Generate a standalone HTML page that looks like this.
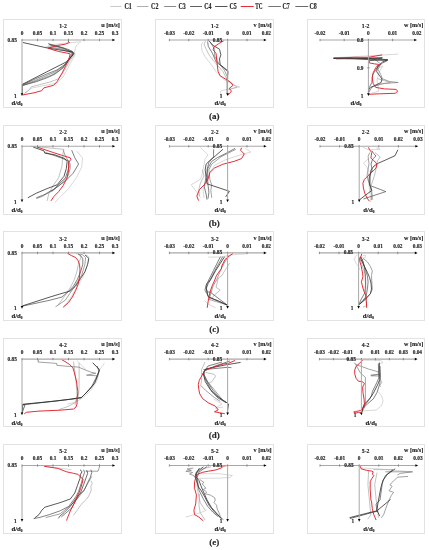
<!DOCTYPE html><html><head><meta charset="utf-8"><title>Velocity profiles</title><style>
html,body{margin:0;padding:0;background:#fff;}body{width:429px;height:550px;overflow:hidden;}
svg{display:block;}text{font-family:"Liberation Serif",serif;font-weight:bold;fill:#262626;stroke:#262626;stroke-width:0.15px;}
.t{font-size:5.3px;}.h{font-size:6.3px;}.s{font-size:9px;}.dd{font-size:6.8px;}.u{font-size:5.8px;}.lg{font-size:7.4px;}
</style></head><body>
<svg width="429" height="550" viewBox="0 0 429 550">
<line x1="110.3" y1="6.5" x2="121.5" y2="6.5" stroke="#c4c4c4" stroke-width="0.9"/>
<text class="lg" x="124.5" y="8.5" textLength="7.3" lengthAdjust="spacingAndGlyphs">C1</text>
<line x1="136.9" y1="6.5" x2="148.4" y2="6.5" stroke="#a6a6a6" stroke-width="0.9"/>
<text class="lg" x="151.1" y="8.5" textLength="7.3" lengthAdjust="spacingAndGlyphs">C2</text>
<line x1="164.2" y1="6.5" x2="176.1" y2="6.5" stroke="#7f7f7f" stroke-width="0.9"/>
<text class="lg" x="178.5" y="8.5" textLength="7.3" lengthAdjust="spacingAndGlyphs">C3</text>
<line x1="190.1" y1="6.5" x2="202.0" y2="6.5" stroke="#4f4f4f" stroke-width="0.9"/>
<text class="lg" x="204.2" y="8.5" textLength="7.3" lengthAdjust="spacingAndGlyphs">C4</text>
<line x1="215.1" y1="6.5" x2="227.4" y2="6.5" stroke="#3f3f3f" stroke-width="0.9"/>
<text class="lg" x="229.4" y="8.5" textLength="7.3" lengthAdjust="spacingAndGlyphs">C5</text>
<line x1="240.7" y1="6.5" x2="253.7" y2="6.5" stroke="#e3161e" stroke-width="0.9"/>
<text class="lg" x="255.3" y="8.5" textLength="7.3" lengthAdjust="spacingAndGlyphs">TC</text>
<line x1="268.3" y1="6.5" x2="280.9" y2="6.5" stroke="#666666" stroke-width="0.9"/>
<text class="lg" x="282.5" y="8.5" textLength="7.3" lengthAdjust="spacingAndGlyphs">C7</text>
<line x1="295.3" y1="6.5" x2="308.2" y2="6.5" stroke="#595959" stroke-width="0.9"/>
<text class="lg" x="309.5" y="8.5" textLength="7.3" lengthAdjust="spacingAndGlyphs">C8</text>
<rect x="3.5" y="19.5" width="118.0" height="88.0" fill="none" stroke="#e2e2e2" stroke-width="1"/>
<polyline points="50.0,45.0 62.0,43.5 80.8,41.7 76.0,46.0 74.5,52.0 75.0,55.0 71.0,62.0 68.0,68.0 63.0,77.0 57.0,83.0 32.0,88.0 25.0,93.0" fill="none" stroke="#c8c8c8" stroke-width="0.7" stroke-linejoin="round"/>
<polyline points="48.0,46.0 62.0,49.0 73.0,52.5 74.0,55.0 69.0,62.0 66.2,67.6 62.0,74.0 58.0,79.0 50.0,82.0 31.2,86.8 29.1,90.0 24.2,93.5" fill="none" stroke="#a8a8a8" stroke-width="0.7" stroke-linejoin="round"/>
<polyline points="50.0,45.0 60.0,47.5 72.0,52.0 72.5,54.0 68.0,60.0 64.0,66.0 55.0,72.0 48.0,75.0 35.0,80.5 22.5,85.2" fill="none" stroke="#7a7a7a" stroke-width="0.7" stroke-linejoin="round"/>
<polyline points="46.0,47.0 60.0,49.0 72.0,53.0 70.0,58.0 65.0,65.0 60.0,70.0 52.0,75.0 48.0,76.5 36.0,81.0 22.5,85.5" fill="none" stroke="#7a7a7a" stroke-width="0.7" stroke-linejoin="round"/>
<polyline points="49.0,44.5 62.0,47.5 73.0,52.5 72.5,55.0 70.0,58.0 63.0,68.0 55.0,74.0 48.0,77.4 36.0,81.8 22.5,85.5" fill="none" stroke="#4a4a4a" stroke-width="0.7" stroke-linejoin="round"/>
<polyline points="48.0,43.6 57.8,46.4 67.6,49.2 72.4,51.3 73.8,53.4 71.7,56.2 66.9,63.0 57.0,70.0 48.0,73.5 35.0,79.0 22.5,84.8" fill="none" stroke="#4a4a4a" stroke-width="0.7" stroke-linejoin="round"/>
<polyline points="22.9,42.5 48.2,48.2 60.0,50.0 72.5,52.0 73.8,53.5 71.7,56.5 66.2,62.0 48.0,71.2 22.3,84.4 22.3,94.0" fill="none" stroke="#2f2f2f" stroke-width="0.8" stroke-linejoin="round"/>
<polyline points="67.8,40.9 69.4,42.5 65.3,44.2 57.2,45.5 48.2,48.2 53.1,49.9 58.8,51.5 66.9,53.1 70.2,53.9 69.4,57.2 67.6,62.0 62.0,73.2 57.1,81.6 53.6,85.3 43.8,87.9 41.7,90.7 34.0,92.8 22.8,94.9" fill="none" stroke="#e3161e" stroke-width="0.9" stroke-linejoin="round"/>
<line x1="22.0" y1="40.0" x2="113.5" y2="40.0" stroke="#a8a8a8" stroke-width="1.1"/>
<path d="M115.2,40.0 l-2.8,-1.3 v2.6 z" fill="#000"/>
<line x1="22.0" y1="38.8" x2="22.0" y2="41.2" stroke="#7a7a7a" stroke-width="0.8"/>
<line x1="37.5" y1="38.8" x2="37.5" y2="41.2" stroke="#7a7a7a" stroke-width="0.8"/>
<line x1="53.0" y1="38.8" x2="53.0" y2="41.2" stroke="#7a7a7a" stroke-width="0.8"/>
<line x1="68.5" y1="38.8" x2="68.5" y2="41.2" stroke="#7a7a7a" stroke-width="0.8"/>
<line x1="84.0" y1="38.8" x2="84.0" y2="41.2" stroke="#7a7a7a" stroke-width="0.8"/>
<line x1="99.5" y1="38.8" x2="99.5" y2="41.2" stroke="#7a7a7a" stroke-width="0.8"/>
<line x1="22.0" y1="40.0" x2="22.0" y2="93.7" stroke="#a8a8a8" stroke-width="1.0"/>
<path d="M22.0,96.0 l-1.3,-2.8 h2.6 z" fill="#000"/>
<text class="t" x="22.0" y="34.7" text-anchor="middle">0</text>
<text class="t" x="37.5" y="34.7" text-anchor="middle">0.05</text>
<text class="t" x="53.0" y="34.7" text-anchor="middle">0.1</text>
<text class="t" x="68.5" y="34.7" text-anchor="middle">0.15</text>
<text class="t" x="84.0" y="34.7" text-anchor="middle">0.2</text>
<text class="t" x="99.5" y="34.7" text-anchor="middle">0.25</text>
<text class="t" x="115.0" y="34.7" text-anchor="middle">0.3</text>
<text class="h" x="59.15" y="27.9" textLength="7.7" lengthAdjust="spacingAndGlyphs">1-2</text>
<text class="u" x="101.19999999999999" y="26.6" textLength="18.6" lengthAdjust="spacingAndGlyphs">u [m/s]</text>
<text class="t" x="16.9" y="41.7" text-anchor="end">0.85</text>
<text class="t" x="15.4" y="97.60000000000001" text-anchor="middle">1</text>
<text class="dd" x="11.4" y="105.4">d/d<tspan font-size="3.4" dy="0.9">0</tspan></text>
<rect x="155.5" y="19.5" width="118.0" height="88.0" fill="none" stroke="#e2e2e2" stroke-width="1"/>
<polyline points="202.7,42.2 201.3,45.0 202.0,50.6 204.8,56.2 209.0,61.8 213.2,67.4 216.0,71.6 220.2,75.8 224.4,80.0 235.6,85.6 239.8,87.0 230.0,89.0 222.0,90.5 220.2,91.8 221.0,94.0 220.9,97.5" fill="none" stroke="#c8c8c8" stroke-width="0.7" stroke-linejoin="round"/>
<polyline points="205.5,40.8 204.1,44.3 206.2,49.2 209.0,54.8 213.2,60.4 218.1,66.0 223.0,71.6 226.5,78.6 232.0,84.0 237.0,87.0 228.6,89.7" fill="none" stroke="#a8a8a8" stroke-width="0.7" stroke-linejoin="round"/>
<polyline points="210.4,42.2 214.6,49.2 214.6,56.2 218.8,63.2 224.4,70.2 227.0,76.0" fill="none" stroke="#7a7a7a" stroke-width="0.7" stroke-linejoin="round"/>
<polyline points="207.6,41.5 208.3,46.4 212.5,53.4 216.0,61.8 223.0,67.4 227.9,71.6 227.5,80.0" fill="none" stroke="#4a4a4a" stroke-width="0.7" stroke-linejoin="round"/>
<polyline points="209.0,40.8 212.5,45.0 219.5,49.2 220.9,54.8 219.5,59.0 220.2,64.6 227.9,70.9 227.2,78.0 227.2,94.0" fill="none" stroke="#2f2f2f" stroke-width="0.8" stroke-linejoin="round"/>
<polyline points="223.7,40.8 218.8,43.6 213.9,47.1 213.2,49.9 216.0,53.4 216.7,59.0 217.4,66.0 218.1,71.6 220.2,75.8 225.8,79.3 231.4,82.8 232.8,85.6 229.3,88.3 231.4,91.1 229.3,93.9 227.9,94.6" fill="none" stroke="#e3161e" stroke-width="0.9" stroke-linejoin="round"/>
<line x1="169.4" y1="40.0" x2="264.9" y2="40.0" stroke="#a8a8a8" stroke-width="1.1"/>
<path d="M266.6,40.0 l-2.8,-1.3 v2.6 z" fill="#000"/>
<line x1="169.4" y1="38.8" x2="169.4" y2="41.2" stroke="#7a7a7a" stroke-width="0.8"/>
<line x1="188.8" y1="38.8" x2="188.8" y2="41.2" stroke="#7a7a7a" stroke-width="0.8"/>
<line x1="208.2" y1="38.8" x2="208.2" y2="41.2" stroke="#7a7a7a" stroke-width="0.8"/>
<line x1="227.6" y1="38.8" x2="227.6" y2="41.2" stroke="#7a7a7a" stroke-width="0.8"/>
<line x1="247.0" y1="38.8" x2="247.0" y2="41.2" stroke="#7a7a7a" stroke-width="0.8"/>
<line x1="227.6" y1="40.0" x2="227.6" y2="93.7" stroke="#a8a8a8" stroke-width="1.0"/>
<path d="M227.6,96.0 l-1.3,-2.8 h2.6 z" fill="#000"/>
<text class="t" x="169.4" y="34.7" text-anchor="middle">-0.03</text>
<text class="t" x="188.8" y="34.7" text-anchor="middle">-0.02</text>
<text class="t" x="208.2" y="34.7" text-anchor="middle">-0.01</text>
<text class="t" x="227.6" y="34.7" text-anchor="middle">0</text>
<text class="t" x="247.0" y="34.7" text-anchor="middle">0.01</text>
<text class="t" x="266.4" y="34.7" text-anchor="middle">0.02</text>
<text class="h" x="210.95" y="27.9" textLength="7.7" lengthAdjust="spacingAndGlyphs">1-2</text>
<text class="u" x="253.60000000000002" y="26.6" textLength="18.0" lengthAdjust="spacingAndGlyphs">v [m/s]</text>
<text class="t" x="217.5" y="41.5" text-anchor="middle">0.85</text>
<text class="t" x="221.2" y="97.60000000000001" text-anchor="middle">1</text>
<text class="dd" x="214.6" y="105.4">d/d<tspan font-size="3.4" dy="0.9">0</tspan></text>
<rect x="307.5" y="19.5" width="117.0" height="88.0" fill="none" stroke="#e2e2e2" stroke-width="1"/>
<polyline points="333.3,57.8 398.5,54.1" fill="none" stroke="#c8c8c8" stroke-width="0.7" stroke-linejoin="round"/>
<polyline points="378.1,68.3 383.0,66.0 379.0,72.0 377.0,80.0 378.6,91.3 372.0,93.0" fill="none" stroke="#c8c8c8" stroke-width="0.7" stroke-linejoin="round"/>
<polyline points="377.6,78.6 390.4,82.5 384.5,83.5 375.0,86.0" fill="none" stroke="#a8a8a8" stroke-width="0.7" stroke-linejoin="round"/>
<polyline points="345.0,58.6 375.0,59.5 380.7,64.0 378.0,69.2 380.7,74.5 382.4,78.8 389.4,81.5 398.2,82.5 382.5,83.5 372.0,87.0 369.0,92.0" fill="none" stroke="#7a7a7a" stroke-width="0.7" stroke-linejoin="round"/>
<polyline points="340.0,58.4 382.4,57.9 370.0,60.5 387.7,60.5 382.4,63.1 377.2,67.5 372.8,74.5 372.0,79.7 371.8,82.5 369.0,88.0 368.5,94.0" fill="none" stroke="#4a4a4a" stroke-width="0.7" stroke-linejoin="round"/>
<polyline points="333.3,58.2 368.3,58.6 387.7,59.6 382.5,62.0 378.1,65.9 377.1,68.8 376.7,71.8 379.6,75.7 382.0,79.1 381.1,82.5 374.7,85.5 370.8,87.4 368.8,89.4 368.3,93.8" fill="none" stroke="#2f2f2f" stroke-width="0.8" stroke-linejoin="round"/>
<polyline points="382.2,54.9 368.3,57.3 354.5,57.3 334.1,58.2 354.0,58.6 369.3,59.5 369.3,62.9 374.7,63.9 378.6,64.4 375.7,67.8 373.2,72.7 372.2,77.6 373.2,83.5 375.7,87.4 384.5,88.9 396.2,89.4 397.7,91.3 395.3,93.3 379.6,93.8 368.8,94.3" fill="none" stroke="#e3161e" stroke-width="0.9" stroke-linejoin="round"/>
<polyline points="333.3,58.4 368.3,58.4 382.4,57.9" fill="none" stroke="#2f2f2f" stroke-width="0.8" stroke-linejoin="round"/>
<polyline points="336.0,58.9 360.0,58.6 387.7,59.8" fill="none" stroke="#4a4a4a" stroke-width="0.7" stroke-linejoin="round"/>
<line x1="320.0" y1="40.0" x2="415.3" y2="40.0" stroke="#a8a8a8" stroke-width="1.1"/>
<path d="M417.0,40.0 l-2.8,-1.3 v2.6 z" fill="#000"/>
<line x1="320.0" y1="38.8" x2="320.0" y2="41.2" stroke="#7a7a7a" stroke-width="0.8"/>
<line x1="344.2" y1="38.8" x2="344.2" y2="41.2" stroke="#7a7a7a" stroke-width="0.8"/>
<line x1="368.4" y1="38.8" x2="368.4" y2="41.2" stroke="#7a7a7a" stroke-width="0.8"/>
<line x1="392.6" y1="38.8" x2="392.6" y2="41.2" stroke="#7a7a7a" stroke-width="0.8"/>
<line x1="368.4" y1="40.0" x2="368.4" y2="93.7" stroke="#a8a8a8" stroke-width="1.0"/>
<path d="M368.4,96.0 l-1.3,-2.8 h2.6 z" fill="#000"/>
<text class="t" x="320.0" y="34.7" text-anchor="middle">-0.02</text>
<text class="t" x="344.2" y="34.7" text-anchor="middle">-0.01</text>
<text class="t" x="368.4" y="34.7" text-anchor="middle">0</text>
<text class="t" x="392.6" y="34.7" text-anchor="middle">0.01</text>
<text class="t" x="416.8" y="34.7" text-anchor="middle">0.02</text>
<text class="h" x="361.75" y="27.9" textLength="7.7" lengthAdjust="spacingAndGlyphs">1-2</text>
<text class="u" x="404.0" y="26.6" textLength="19.2" lengthAdjust="spacingAndGlyphs">w [m/s]</text>
<text class="t" x="360.2" y="41.7" text-anchor="middle">0.8</text>
<line x1="367.2" y1="67.8" x2="369.6" y2="67.8" stroke="#7a7a7a" stroke-width="0.8"/>
<text class="t" x="360.2" y="70.1" text-anchor="middle">0.9</text>
<text class="t" x="362.1" y="97.60000000000001" text-anchor="middle">1</text>
<text class="dd" x="350.4" y="105.4">d/d<tspan font-size="3.4" dy="0.9">0</tspan></text>
<text class="s" x="214.3" y="119.39999999999999" text-anchor="middle">(a)</text>
<rect x="3.5" y="125.5" width="118.0" height="89.0" fill="none" stroke="#e2e2e2" stroke-width="1"/>
<polyline points="76.3,150.9 82.5,157.8 81.7,167.1 76.3,177.8 68.6,188.6 60.9,196.3 54.8,202.5" fill="none" stroke="#c8c8c8" stroke-width="0.7" stroke-linejoin="round"/>
<polyline points="30.9,146.3 45.0,147.5 64.0,149.4 63.0,153.0 62.5,159.4 62.0,166.0 58.6,177.8 53.2,185.5 49.0,193.0 47.1,200.9" fill="none" stroke="#a8a8a8" stroke-width="0.7" stroke-linejoin="round"/>
<polyline points="63.2,150.2 65.5,156.3 70.2,164.0 70.2,168.6 67.8,176.3 60.9,184.0 53.2,190.2 42.5,196.3 36.3,198.6" fill="none" stroke="#7a7a7a" stroke-width="0.7" stroke-linejoin="round"/>
<polyline points="71.7,150.2 74.8,157.8 78.6,164.0 73.2,173.2 65.5,180.9 54.8,188.6 44.0,194.8 36.3,197.8" fill="none" stroke="#4a4a4a" stroke-width="0.7" stroke-linejoin="round"/>
<polyline points="45.5,152.5 60.9,157.8 68.6,160.9 69.0,167.0 65.5,177.8 59.0,184.0 51.7,191.7" fill="none" stroke="#4a4a4a" stroke-width="0.7" stroke-linejoin="round"/>
<polyline points="33.2,147.1 44.0,150.9 44.8,153.2 54.8,154.8 64.8,158.6 67.1,161.7 66.3,168.6 64.0,176.3 57.1,184.8 47.1,188.6 36.3,193.2 27.8,197.8" fill="none" stroke="#2f2f2f" stroke-width="0.8" stroke-linejoin="round"/>
<polyline points="37.1,147.1 44.0,149.4 53.2,152.5 62.5,155.5 70.2,157.8 70.9,159.4 68.6,162.5 68.6,170.2 67.1,177.8 63.2,185.5 58.6,191.7 54.0,196.3 50.9,200.9" fill="none" stroke="#e3161e" stroke-width="0.9" stroke-linejoin="round"/>
<line x1="22.0" y1="146.3" x2="113.5" y2="146.3" stroke="#a8a8a8" stroke-width="1.1"/>
<path d="M115.2,146.3 l-2.8,-1.3 v2.6 z" fill="#000"/>
<line x1="22.0" y1="145.10000000000002" x2="22.0" y2="147.5" stroke="#7a7a7a" stroke-width="0.8"/>
<line x1="37.5" y1="145.10000000000002" x2="37.5" y2="147.5" stroke="#7a7a7a" stroke-width="0.8"/>
<line x1="53.0" y1="145.10000000000002" x2="53.0" y2="147.5" stroke="#7a7a7a" stroke-width="0.8"/>
<line x1="68.5" y1="145.10000000000002" x2="68.5" y2="147.5" stroke="#7a7a7a" stroke-width="0.8"/>
<line x1="84.0" y1="145.10000000000002" x2="84.0" y2="147.5" stroke="#7a7a7a" stroke-width="0.8"/>
<line x1="99.5" y1="145.10000000000002" x2="99.5" y2="147.5" stroke="#7a7a7a" stroke-width="0.8"/>
<line x1="22.0" y1="146.3" x2="22.0" y2="199.9" stroke="#a8a8a8" stroke-width="1.0"/>
<path d="M22.0,202.20000000000002 l-1.3,-2.8 h2.6 z" fill="#000"/>
<text class="t" x="22.0" y="141.0" text-anchor="middle">0</text>
<text class="t" x="37.5" y="141.0" text-anchor="middle">0.05</text>
<text class="t" x="53.0" y="141.0" text-anchor="middle">0.1</text>
<text class="t" x="68.5" y="141.0" text-anchor="middle">0.15</text>
<text class="t" x="84.0" y="141.0" text-anchor="middle">0.2</text>
<text class="t" x="99.5" y="141.0" text-anchor="middle">0.25</text>
<text class="t" x="115.0" y="141.0" text-anchor="middle">0.3</text>
<text class="h" x="59.15" y="134.20000000000002" textLength="7.7" lengthAdjust="spacingAndGlyphs">2-2</text>
<text class="u" x="101.19999999999999" y="132.9" textLength="18.6" lengthAdjust="spacingAndGlyphs">u [m/s]</text>
<text class="t" x="16.9" y="148.0" text-anchor="end">0.85</text>
<text class="t" x="15.4" y="203.8" text-anchor="middle">1</text>
<text class="dd" x="11.4" y="211.6">d/d<tspan font-size="3.4" dy="0.9">0</tspan></text>
<rect x="155.5" y="125.5" width="118.0" height="89.0" fill="none" stroke="#e2e2e2" stroke-width="1"/>
<polyline points="245.3,148.4 250.9,152.1 240.0,155.0 225.0,160.0 215.0,165.0 210.0,172.0 207.0,180.0 203.0,190.0 204.0,198.0" fill="none" stroke="#c8c8c8" stroke-width="0.7" stroke-linejoin="round"/>
<polyline points="200.5,147.5 208.0,154.9 205.2,158.6 204.0,165.0 202.4,173.6 200.5,179.2 191.2,184.8 196.8,192.2 200.5,197.8" fill="none" stroke="#c8c8c8" stroke-width="0.7" stroke-linejoin="round"/>
<polyline points="202.4,169.8 204.0,176.0 200.5,182.9 198.6,190.3 199.6,196.0" fill="none" stroke="#a8a8a8" stroke-width="0.7" stroke-linejoin="round"/>
<polyline points="235.9,149.3 221.0,156.8 211.7,164.2 208.9,169.8 209.8,179.2 211.7,184.8 210.8,190.3 211.7,197.8" fill="none" stroke="#7a7a7a" stroke-width="0.7" stroke-linejoin="round"/>
<polyline points="235.0,148.4 226.6,153.0 217.3,157.7 211.7,161.4 208.0,168.0 206.1,177.3 204.2,186.6 206.1,194.1 207.0,199.7" fill="none" stroke="#4a4a4a" stroke-width="0.7" stroke-linejoin="round"/>
<polyline points="213.6,149.3 213.6,156.8 208.9,162.4 207.0,169.8 207.5,177.0 208.0,184.8 208.9,192.2 208.0,198.7" fill="none" stroke="#4a4a4a" stroke-width="0.7" stroke-linejoin="round"/>
<polyline points="222.9,149.3 215.4,155.9 209.8,160.5 206.1,164.2 205.2,169.8 206.1,177.3 207.0,183.8 229.4,191.3 225.7,196.9" fill="none" stroke="#2f2f2f" stroke-width="0.8" stroke-linejoin="round"/>
<polyline points="241.5,147.8 240.6,150.3 244.3,154.0 241.5,158.6 234.1,161.4 222.9,164.2 214.5,168.0 209.8,172.6 208.0,179.2 204.2,184.8 199.6,189.4 196.8,196.0 198.6,200.6" fill="none" stroke="#e3161e" stroke-width="0.9" stroke-linejoin="round"/>
<line x1="169.4" y1="146.3" x2="264.9" y2="146.3" stroke="#a8a8a8" stroke-width="1.1"/>
<path d="M266.6,146.3 l-2.8,-1.3 v2.6 z" fill="#000"/>
<line x1="169.4" y1="145.10000000000002" x2="169.4" y2="147.5" stroke="#7a7a7a" stroke-width="0.8"/>
<line x1="188.8" y1="145.10000000000002" x2="188.8" y2="147.5" stroke="#7a7a7a" stroke-width="0.8"/>
<line x1="208.2" y1="145.10000000000002" x2="208.2" y2="147.5" stroke="#7a7a7a" stroke-width="0.8"/>
<line x1="227.6" y1="145.10000000000002" x2="227.6" y2="147.5" stroke="#7a7a7a" stroke-width="0.8"/>
<line x1="247.0" y1="145.10000000000002" x2="247.0" y2="147.5" stroke="#7a7a7a" stroke-width="0.8"/>
<line x1="227.6" y1="146.3" x2="227.6" y2="199.9" stroke="#a8a8a8" stroke-width="1.0"/>
<path d="M227.6,202.20000000000002 l-1.3,-2.8 h2.6 z" fill="#000"/>
<text class="t" x="169.4" y="141.0" text-anchor="middle">-0.03</text>
<text class="t" x="188.8" y="141.0" text-anchor="middle">-0.02</text>
<text class="t" x="208.2" y="141.0" text-anchor="middle">-0.01</text>
<text class="t" x="227.6" y="141.0" text-anchor="middle">0</text>
<text class="t" x="247.0" y="141.0" text-anchor="middle">0.01</text>
<text class="t" x="266.4" y="141.0" text-anchor="middle">0.02</text>
<text class="h" x="210.95" y="134.20000000000002" textLength="7.7" lengthAdjust="spacingAndGlyphs">2-2</text>
<text class="u" x="253.60000000000002" y="132.9" textLength="18.0" lengthAdjust="spacingAndGlyphs">v [m/s]</text>
<text class="t" x="217.5" y="147.8" text-anchor="middle">0.85</text>
<text class="t" x="221.2" y="203.8" text-anchor="middle">1</text>
<text class="dd" x="214.6" y="211.6">d/d<tspan font-size="3.4" dy="0.9">0</tspan></text>
<rect x="307.5" y="125.5" width="117.0" height="89.0" fill="none" stroke="#e2e2e2" stroke-width="1"/>
<polyline points="362.5,146.9 367.1,149.2 373.6,149.7 380.2,149.2 376.4,147.8" fill="none" stroke="#c8c8c8" stroke-width="0.7" stroke-linejoin="round"/>
<polyline points="368.1,159.0 363.4,163.2 367.1,167.4 369.0,172.0 368.0,178.0 369.0,185.0 370.9,201.8" fill="none" stroke="#c8c8c8" stroke-width="0.7" stroke-linejoin="round"/>
<polyline points="375.0,152.5 380.2,157.1 377.4,160.9 376.4,167.4 374.6,175.0 373.0,180.0 371.0,186.0 372.0,192.0 372.7,200.0" fill="none" stroke="#a8a8a8" stroke-width="0.7" stroke-linejoin="round"/>
<polyline points="369.9,152.5 368.1,156.2 369.0,163.6 368.1,169.2 367.1,175.0 368.0,180.0 370.0,185.0 370.9,190.6 371.8,195.3 371.3,200.0" fill="none" stroke="#7a7a7a" stroke-width="0.7" stroke-linejoin="round"/>
<polyline points="371.8,150.6 373.6,153.4 376.0,156.0 372.7,159.0 371.0,164.0 372.2,170.2 369.9,175.0 369.0,180.0 370.0,186.0" fill="none" stroke="#4a4a4a" stroke-width="0.7" stroke-linejoin="round"/>
<polyline points="371.3,186.0 385.8,191.6 371.8,196.2 363.4,199.0" fill="none" stroke="#4a4a4a" stroke-width="0.7" stroke-linejoin="round"/>
<polyline points="397.9,149.8 395.0,155.7 385.8,159.9 378.3,163.2 374.0,166.0 371.0,170.0 370.0,176.0 369.9,185.1 371.8,190.6 369.0,192.5 359.2,200.0" fill="none" stroke="#2f2f2f" stroke-width="0.8" stroke-linejoin="round"/>
<polyline points="368.5,147.3 369.5,149.7 371.8,152.5 371.3,155.3 370.9,158.1 373.6,160.4 376.0,162.7 376.9,165.0 376.0,167.8 374.1,170.2 371.8,172.0 368.1,175.7 364.3,179.5 362.9,183.2 363.4,187.9 364.8,193.4 367.1,198.1 369.5,201.4" fill="none" stroke="#e3161e" stroke-width="0.9" stroke-linejoin="round"/>
<line x1="320.0" y1="146.3" x2="416.5" y2="146.3" stroke="#a8a8a8" stroke-width="1.1"/>
<path d="M418.2,146.3 l-2.8,-1.3 v2.6 z" fill="#000"/>
<line x1="320.0" y1="145.10000000000002" x2="320.0" y2="147.5" stroke="#7a7a7a" stroke-width="0.8"/>
<line x1="339.6" y1="145.10000000000002" x2="339.6" y2="147.5" stroke="#7a7a7a" stroke-width="0.8"/>
<line x1="359.2" y1="145.10000000000002" x2="359.2" y2="147.5" stroke="#7a7a7a" stroke-width="0.8"/>
<line x1="378.8" y1="145.10000000000002" x2="378.8" y2="147.5" stroke="#7a7a7a" stroke-width="0.8"/>
<line x1="398.4" y1="145.10000000000002" x2="398.4" y2="147.5" stroke="#7a7a7a" stroke-width="0.8"/>
<line x1="359.2" y1="146.3" x2="359.2" y2="199.9" stroke="#a8a8a8" stroke-width="1.0"/>
<path d="M359.2,202.20000000000002 l-1.3,-2.8 h2.6 z" fill="#000"/>
<text class="t" x="320.0" y="141.0" text-anchor="middle">-0.02</text>
<text class="t" x="339.6" y="141.0" text-anchor="middle">-0.01</text>
<text class="t" x="359.2" y="141.0" text-anchor="middle">0</text>
<text class="t" x="378.8" y="141.0" text-anchor="middle">0.01</text>
<text class="t" x="398.4" y="141.0" text-anchor="middle">0.02</text>
<text class="t" x="418.0" y="141.0" text-anchor="middle">0.03</text>
<text class="h" x="361.75" y="134.20000000000002" textLength="7.7" lengthAdjust="spacingAndGlyphs">2-2</text>
<text class="u" x="404.0" y="132.9" textLength="19.2" lengthAdjust="spacingAndGlyphs">w [m/s]</text>
<text class="t" x="349.0" y="147.8" text-anchor="middle">0.85</text>
<text class="t" x="352.8" y="203.8" text-anchor="middle">1</text>
<text class="dd" x="363.3" y="211.6">d/d<tspan font-size="3.4" dy="0.9">0</tspan></text>
<text class="s" x="214.3" y="226.1" text-anchor="middle">(b)</text>
<rect x="3.5" y="231.5" width="118.0" height="89.0" fill="none" stroke="#e2e2e2" stroke-width="1"/>
<polyline points="86.0,255.0 88.8,256.6 87.1,266.4 82.8,277.3 77.3,286.0 71.8,295.9 67.5,302.4 64.0,306.0" fill="none" stroke="#c8c8c8" stroke-width="0.7" stroke-linejoin="round"/>
<polyline points="76.0,253.5 79.5,254.4 81.0,258.0 78.9,262.0 76.8,271.8 74.0,280.6 70.0,288.0 64.0,297.0 58.0,305.0" fill="none" stroke="#a8a8a8" stroke-width="0.7" stroke-linejoin="round"/>
<polyline points="80.0,254.0 82.8,254.9 85.5,257.6 85.0,264.0 81.7,275.1 76.2,283.9 69.7,293.7 65.3,300.2 55.5,306.8" fill="none" stroke="#7a7a7a" stroke-width="0.7" stroke-linejoin="round"/>
<polyline points="78.0,254.0 80.6,255.5 82.8,258.7 82.8,264.2 80.6,271.8 77.3,279.5 73.5,286.0 69.7,290.4 62.0,297.0 50.0,300.2 22.1,306.2" fill="none" stroke="#4a4a4a" stroke-width="0.7" stroke-linejoin="round"/>
<polyline points="85.0,255.0 87.1,256.6 88.8,258.7 87.7,264.2 84.9,271.8 80.6,278.4 75.7,286.0 70.2,291.0 60.9,293.7 50.0,297.0 22.1,306.0" fill="none" stroke="#2f2f2f" stroke-width="0.8" stroke-linejoin="round"/>
<polyline points="67.5,253.3 71.3,255.5 75.7,257.6 77.9,260.4 79.5,264.2 80.0,269.7 79.5,277.3 77.9,285.0 75.7,290.4 72.4,297.0 68.6,302.4 63.1,307.3" fill="none" stroke="#e3161e" stroke-width="0.9" stroke-linejoin="round"/>
<line x1="22.0" y1="252.9" x2="113.5" y2="252.9" stroke="#a8a8a8" stroke-width="1.1"/>
<path d="M115.2,252.9 l-2.8,-1.3 v2.6 z" fill="#000"/>
<line x1="22.0" y1="251.70000000000002" x2="22.0" y2="254.1" stroke="#7a7a7a" stroke-width="0.8"/>
<line x1="37.5" y1="251.70000000000002" x2="37.5" y2="254.1" stroke="#7a7a7a" stroke-width="0.8"/>
<line x1="53.0" y1="251.70000000000002" x2="53.0" y2="254.1" stroke="#7a7a7a" stroke-width="0.8"/>
<line x1="68.5" y1="251.70000000000002" x2="68.5" y2="254.1" stroke="#7a7a7a" stroke-width="0.8"/>
<line x1="84.0" y1="251.70000000000002" x2="84.0" y2="254.1" stroke="#7a7a7a" stroke-width="0.8"/>
<line x1="99.5" y1="251.70000000000002" x2="99.5" y2="254.1" stroke="#7a7a7a" stroke-width="0.8"/>
<line x1="22.0" y1="252.9" x2="22.0" y2="306.5" stroke="#a8a8a8" stroke-width="1.0"/>
<path d="M22.0,308.8 l-1.3,-2.8 h2.6 z" fill="#000"/>
<text class="t" x="22.0" y="247.6" text-anchor="middle">0</text>
<text class="t" x="37.5" y="247.6" text-anchor="middle">0.05</text>
<text class="t" x="53.0" y="247.6" text-anchor="middle">0.1</text>
<text class="t" x="68.5" y="247.6" text-anchor="middle">0.15</text>
<text class="t" x="84.0" y="247.6" text-anchor="middle">0.2</text>
<text class="t" x="99.5" y="247.6" text-anchor="middle">0.25</text>
<text class="t" x="115.0" y="247.6" text-anchor="middle">0.3</text>
<text class="h" x="59.15" y="240.8" textLength="7.7" lengthAdjust="spacingAndGlyphs">3-2</text>
<text class="u" x="101.19999999999999" y="239.5" textLength="18.6" lengthAdjust="spacingAndGlyphs">u [m/s]</text>
<text class="t" x="16.9" y="254.6" text-anchor="end">0.85</text>
<text class="t" x="15.4" y="310.4" text-anchor="middle">1</text>
<text class="dd" x="11.4" y="318.2">d/d<tspan font-size="3.4" dy="0.9">0</tspan></text>
<rect x="155.5" y="231.5" width="118.0" height="89.0" fill="none" stroke="#e2e2e2" stroke-width="1"/>
<polyline points="208.3,257.1 219.4,257.1 235.0,254.5 247.0,253.8" fill="none" stroke="#c8c8c8" stroke-width="0.7" stroke-linejoin="round"/>
<polyline points="204.4,300.4 208.1,304.1 215.6,307.8" fill="none" stroke="#c8c8c8" stroke-width="0.7" stroke-linejoin="round"/>
<polyline points="229.7,263.2 226.0,268.8 221.3,276.2 218.4,278.0 216.0,287.3 220.2,290.1 214.6,294.8 212.0,298.0" fill="none" stroke="#a8a8a8" stroke-width="0.7" stroke-linejoin="round"/>
<polyline points="228.8,255.7 224.1,263.2 220.4,270.6 216.6,280.0 213.0,286.0 209.1,299.4 227.2,305.0" fill="none" stroke="#7a7a7a" stroke-width="0.7" stroke-linejoin="round"/>
<polyline points="220.4,256.7 217.1,263.2 213.4,270.6 208.7,280.0 206.0,286.0 207.0,292.0 210.0,292.0 227.2,305.0" fill="none" stroke="#4a4a4a" stroke-width="0.7" stroke-linejoin="round"/>
<polyline points="222.7,256.7 218.5,264.1 214.3,271.6 210.1,280.0 206.7,283.6 204.9,290.1 209.1,297.6 219.3,301.3 227.2,305.0" fill="none" stroke="#4a4a4a" stroke-width="0.7" stroke-linejoin="round"/>
<polyline points="224.6,256.7 220.4,263.2 215.7,270.6 211.0,279.0 208.1,283.6 206.3,288.3 208.1,296.6 227.2,305.0" fill="none" stroke="#2f2f2f" stroke-width="0.8" stroke-linejoin="round"/>
<polyline points="233.0,253.4 229.7,255.7 225.0,259.5 223.2,263.2 221.8,266.0 221.3,268.8 218.5,272.5 216.2,276.2 214.8,280.0 212.3,285.5 210.0,292.0 208.6,298.5 207.2,307.8" fill="none" stroke="#e3161e" stroke-width="0.9" stroke-linejoin="round"/>
<line x1="169.4" y1="252.9" x2="264.9" y2="252.9" stroke="#a8a8a8" stroke-width="1.1"/>
<path d="M266.6,252.9 l-2.8,-1.3 v2.6 z" fill="#000"/>
<line x1="169.4" y1="251.70000000000002" x2="169.4" y2="254.1" stroke="#7a7a7a" stroke-width="0.8"/>
<line x1="188.8" y1="251.70000000000002" x2="188.8" y2="254.1" stroke="#7a7a7a" stroke-width="0.8"/>
<line x1="208.2" y1="251.70000000000002" x2="208.2" y2="254.1" stroke="#7a7a7a" stroke-width="0.8"/>
<line x1="227.6" y1="251.70000000000002" x2="227.6" y2="254.1" stroke="#7a7a7a" stroke-width="0.8"/>
<line x1="247.0" y1="251.70000000000002" x2="247.0" y2="254.1" stroke="#7a7a7a" stroke-width="0.8"/>
<line x1="227.6" y1="252.9" x2="227.6" y2="306.5" stroke="#a8a8a8" stroke-width="1.0"/>
<path d="M227.6,308.8 l-1.3,-2.8 h2.6 z" fill="#000"/>
<text class="t" x="169.4" y="247.6" text-anchor="middle">-0.03</text>
<text class="t" x="188.8" y="247.6" text-anchor="middle">-0.02</text>
<text class="t" x="208.2" y="247.6" text-anchor="middle">-0.01</text>
<text class="t" x="227.6" y="247.6" text-anchor="middle">0</text>
<text class="t" x="247.0" y="247.6" text-anchor="middle">0.01</text>
<text class="t" x="266.4" y="247.6" text-anchor="middle">0.02</text>
<text class="h" x="210.95" y="240.8" textLength="7.7" lengthAdjust="spacingAndGlyphs">3-2</text>
<text class="u" x="253.60000000000002" y="239.5" textLength="18.0" lengthAdjust="spacingAndGlyphs">v [m/s]</text>
<text class="t" x="217.5" y="254.4" text-anchor="middle">0.85</text>
<text class="t" x="221.2" y="310.4" text-anchor="middle">1</text>
<text class="dd" x="214.6" y="318.2">d/d<tspan font-size="3.4" dy="0.9">0</tspan></text>
<rect x="307.5" y="231.5" width="117.0" height="89.0" fill="none" stroke="#e2e2e2" stroke-width="1"/>
<polyline points="362.6,256.0 365.2,255.2 365.9,256.7 364.0,258.2 362.5,257.5" fill="none" stroke="#c8c8c8" stroke-width="0.7" stroke-linejoin="round"/>
<polyline points="357.7,254.5 355.5,256.7 354.3,259.7 356.2,263.4 358.4,266.4 359.5,270.0" fill="none" stroke="#c8c8c8" stroke-width="0.7" stroke-linejoin="round"/>
<polyline points="359.2,256.7 361.0,262.0 363.0,268.0 365.2,273.9 365.9,282.0 365.5,295.9 366.7,305.6 362.9,307.1" fill="none" stroke="#a8a8a8" stroke-width="0.7" stroke-linejoin="round"/>
<polyline points="362.9,258.2 367.4,261.9 370.4,266.4 372.3,270.9 371.5,275.4 371.9,284.0 372.3,289.2 370.4,293.7 366.0,298.0 360.0,304.0" fill="none" stroke="#7a7a7a" stroke-width="0.7" stroke-linejoin="round"/>
<polyline points="361.0,257.0 363.0,262.0 364.5,268.0 365.2,274.0 365.5,285.5 364.8,292.9 361.4,298.9 358.8,304.5" fill="none" stroke="#4a4a4a" stroke-width="0.7" stroke-linejoin="round"/>
<polyline points="362.2,259.0 364.0,264.9 365.9,270.9 367.4,276.1 368.1,282.0 367.5,288.0 366.7,292.9 365.9,296.7 362.9,300.4 358.8,304.9" fill="none" stroke="#4a4a4a" stroke-width="0.7" stroke-linejoin="round"/>
<polyline points="360.7,256.7 361.1,259.7 362.9,263.4 365.2,267.9 367.4,272.4 369.6,277.6 371.0,283.0 371.5,289.0 370.4,293.7 365.9,298.9 359.2,304.5" fill="none" stroke="#2f2f2f" stroke-width="0.8" stroke-linejoin="round"/>
<polyline points="361.8,253.7 361.1,256.0 359.6,259.0 359.9,261.9 361.1,265.7 361.8,269.4 362.6,273.1 362.9,276.9 362.6,278.0 361.4,281.7 362.6,287.0 364.0,291.4 365.9,295.2 366.3,300.4 366.7,307.9" fill="none" stroke="#e3161e" stroke-width="0.9" stroke-linejoin="round"/>
<line x1="319.4" y1="252.9" x2="415.9" y2="252.9" stroke="#a8a8a8" stroke-width="1.1"/>
<path d="M417.6,252.9 l-2.8,-1.3 v2.6 z" fill="#000"/>
<line x1="319.4" y1="251.70000000000002" x2="319.4" y2="254.1" stroke="#7a7a7a" stroke-width="0.8"/>
<line x1="339.0" y1="251.70000000000002" x2="339.0" y2="254.1" stroke="#7a7a7a" stroke-width="0.8"/>
<line x1="358.6" y1="251.70000000000002" x2="358.6" y2="254.1" stroke="#7a7a7a" stroke-width="0.8"/>
<line x1="378.2" y1="251.70000000000002" x2="378.2" y2="254.1" stroke="#7a7a7a" stroke-width="0.8"/>
<line x1="397.8" y1="251.70000000000002" x2="397.8" y2="254.1" stroke="#7a7a7a" stroke-width="0.8"/>
<line x1="358.6" y1="252.9" x2="358.6" y2="306.5" stroke="#a8a8a8" stroke-width="1.0"/>
<path d="M358.6,308.8 l-1.3,-2.8 h2.6 z" fill="#000"/>
<text class="t" x="319.4" y="247.6" text-anchor="middle">-0.02</text>
<text class="t" x="339.0" y="247.6" text-anchor="middle">-0.01</text>
<text class="t" x="358.6" y="247.6" text-anchor="middle">0</text>
<text class="t" x="378.2" y="247.6" text-anchor="middle">0.01</text>
<text class="t" x="397.8" y="247.6" text-anchor="middle">0.02</text>
<text class="t" x="417.4" y="247.6" text-anchor="middle">0.03</text>
<text class="h" x="361.75" y="240.8" textLength="7.7" lengthAdjust="spacingAndGlyphs">3-2</text>
<text class="u" x="404.0" y="239.5" textLength="19.2" lengthAdjust="spacingAndGlyphs">w [m/s]</text>
<text class="t" x="348.4" y="254.4" text-anchor="middle">0.85</text>
<text class="t" x="352.2" y="310.4" text-anchor="middle">1</text>
<text class="dd" x="362.7" y="318.2">d/d<tspan font-size="3.4" dy="0.9">0</tspan></text>
<text class="s" x="214.3" y="332.3" text-anchor="middle">(c)</text>
<rect x="3.5" y="338.5" width="118.0" height="88.0" fill="none" stroke="#e2e2e2" stroke-width="1"/>
<polyline points="104.4,362.8 102.6,365.9 99.5,369.6 97.0,380.7 91.0,390.0 84.0,397.0 76.0,402.0 67.4,404.0" fill="none" stroke="#c8c8c8" stroke-width="0.7" stroke-linejoin="round"/>
<polyline points="77.2,361.0 85.9,369.6" fill="none" stroke="#c8c8c8" stroke-width="0.7" stroke-linejoin="round"/>
<polyline points="73.5,361.6 74.2,367.1 76.0,380.0 77.0,395.0 75.0,405.0" fill="none" stroke="#a8a8a8" stroke-width="0.7" stroke-linejoin="round"/>
<polyline points="79.1,362.8 79.1,386.9 78.5,395.6 76.0,402.0 68.3,406.4 58.9,409.6" fill="none" stroke="#a8a8a8" stroke-width="0.7" stroke-linejoin="round"/>
<polyline points="39.0,359.2 37.9,362.0 56.8,363.4 56.8,365.3 69.8,366.5 78.5,367.1 85.9,370.2 90.8,372.1 95.8,373.3 86.5,375.2 97.0,375.8" fill="none" stroke="#7a7a7a" stroke-width="0.7" stroke-linejoin="round"/>
<polyline points="97.0,366.0 99.0,371.0 96.0,378.0 92.0,386.0 86.0,393.0 81.0,398.0 60.0,400.5 22.6,404.8 25.0,404.7 22.0,413.2" fill="none" stroke="#4a4a4a" stroke-width="0.8" stroke-linejoin="round"/>
<polyline points="92.7,362.8 99.5,369.6 97.6,375.8 94.6,383.2 89.6,389.4 83.4,395.6 81.6,397.4 69.8,399.3 55.0,401.1 22.6,404.3 22.4,413.0" fill="none" stroke="#2f2f2f" stroke-width="0.9" stroke-linejoin="round"/>
<polyline points="61.8,359.7 66.1,362.2 69.8,364.7 72.9,367.7 74.2,372.1 75.4,377.0 76.6,382.0 77.2,386.9 77.9,391.8 77.2,398.0 77.0,404.0 76.0,407.0 73.6,409.0 60.0,410.2 39.0,411.1 26.4,412.3 24.3,413.8" fill="none" stroke="#e3161e" stroke-width="0.9" stroke-linejoin="round"/>
<line x1="22.0" y1="359.1" x2="113.5" y2="359.1" stroke="#a8a8a8" stroke-width="1.1"/>
<path d="M115.2,359.1 l-2.8,-1.3 v2.6 z" fill="#000"/>
<line x1="22.0" y1="357.90000000000003" x2="22.0" y2="360.3" stroke="#7a7a7a" stroke-width="0.8"/>
<line x1="37.5" y1="357.90000000000003" x2="37.5" y2="360.3" stroke="#7a7a7a" stroke-width="0.8"/>
<line x1="53.0" y1="357.90000000000003" x2="53.0" y2="360.3" stroke="#7a7a7a" stroke-width="0.8"/>
<line x1="68.5" y1="357.90000000000003" x2="68.5" y2="360.3" stroke="#7a7a7a" stroke-width="0.8"/>
<line x1="84.0" y1="357.90000000000003" x2="84.0" y2="360.3" stroke="#7a7a7a" stroke-width="0.8"/>
<line x1="99.5" y1="357.90000000000003" x2="99.5" y2="360.3" stroke="#7a7a7a" stroke-width="0.8"/>
<line x1="22.0" y1="359.1" x2="22.0" y2="412.9" stroke="#a8a8a8" stroke-width="1.0"/>
<path d="M22.0,415.2 l-1.3,-2.8 h2.6 z" fill="#000"/>
<text class="t" x="22.0" y="353.8" text-anchor="middle">0</text>
<text class="t" x="37.5" y="353.8" text-anchor="middle">0.05</text>
<text class="t" x="53.0" y="353.8" text-anchor="middle">0.1</text>
<text class="t" x="68.5" y="353.8" text-anchor="middle">0.15</text>
<text class="t" x="84.0" y="353.8" text-anchor="middle">0.2</text>
<text class="t" x="99.5" y="353.8" text-anchor="middle">0.25</text>
<text class="t" x="115.0" y="353.8" text-anchor="middle">0.3</text>
<text class="h" x="59.15" y="347.0" textLength="7.7" lengthAdjust="spacingAndGlyphs">4-2</text>
<text class="u" x="101.19999999999999" y="345.70000000000005" textLength="18.6" lengthAdjust="spacingAndGlyphs">u [m/s]</text>
<text class="t" x="16.9" y="360.8" text-anchor="end">0.85</text>
<text class="t" x="15.4" y="416.79999999999995" text-anchor="middle">1</text>
<text class="dd" x="11.4" y="424.59999999999997">d/d<tspan font-size="3.4" dy="0.9">0</tspan></text>
<rect x="155.5" y="338.5" width="118.0" height="88.0" fill="none" stroke="#e2e2e2" stroke-width="1"/>
<polyline points="213.6,398.8 222.0,404.0 215.4,408.1 222.9,407.1" fill="none" stroke="#c8c8c8" stroke-width="0.7" stroke-linejoin="round"/>
<polyline points="205.0,362.0 201.6,369.6 201.6,380.8 200.7,385.4" fill="none" stroke="#a8a8a8" stroke-width="0.7" stroke-linejoin="round"/>
<polyline points="205.3,372.4 214.2,374.3 215.6,376.1 211.9,381.7 209.0,383.0" fill="none" stroke="#a8a8a8" stroke-width="0.7" stroke-linejoin="round"/>
<polyline points="204.4,378.0 214.6,390.1 222.1,399.4" fill="none" stroke="#7a7a7a" stroke-width="0.7" stroke-linejoin="round"/>
<polyline points="200.7,385.4 205.3,390.1 214.6,397.6 220.2,401.3" fill="none" stroke="#7a7a7a" stroke-width="0.7" stroke-linejoin="round"/>
<polyline points="203.5,369.6 227.7,367.3 231.4,367.7" fill="none" stroke="#4a4a4a" stroke-width="0.7" stroke-linejoin="round"/>
<polyline points="222.0,362.0 208.0,366.0 203.0,373.3 206.3,380.8 211.9,392.0 218.0,398.0 226.0,402.7" fill="none" stroke="#4a4a4a" stroke-width="0.7" stroke-linejoin="round"/>
<polyline points="230.0,361.0 215.0,366.0 204.4,371.0 204.4,375.2 208.1,382.6 212.8,390.1 219.3,397.6 226.8,402.7" fill="none" stroke="#4a4a4a" stroke-width="0.7" stroke-linejoin="round"/>
<polyline points="240.6,362.4 225.0,365.0 206.1,368.9 203.5,372.0 203.5,374.3 205.3,381.7 210.0,389.2 216.5,395.7 223.0,400.4 226.8,402.7 228.5,404.0 227.6,410.0 227.6,413.7" fill="none" stroke="#2f2f2f" stroke-width="0.8" stroke-linejoin="round"/>
<polyline points="235.0,360.5 228.5,363.3 223.0,364.0 214.6,366.8 207.2,369.1 203.9,371.9 201.6,376.1 199.3,380.3 198.3,384.5 198.8,389.2 199.7,393.8 202.5,398.5 208.1,402.7 215.4,406.2 218.2,409.9 214.5,411.8 224.8,413.7" fill="none" stroke="#e3161e" stroke-width="0.9" stroke-linejoin="round"/>
<line x1="169.4" y1="359.1" x2="264.9" y2="359.1" stroke="#a8a8a8" stroke-width="1.1"/>
<path d="M266.6,359.1 l-2.8,-1.3 v2.6 z" fill="#000"/>
<line x1="169.4" y1="357.90000000000003" x2="169.4" y2="360.3" stroke="#7a7a7a" stroke-width="0.8"/>
<line x1="188.8" y1="357.90000000000003" x2="188.8" y2="360.3" stroke="#7a7a7a" stroke-width="0.8"/>
<line x1="208.2" y1="357.90000000000003" x2="208.2" y2="360.3" stroke="#7a7a7a" stroke-width="0.8"/>
<line x1="227.6" y1="357.90000000000003" x2="227.6" y2="360.3" stroke="#7a7a7a" stroke-width="0.8"/>
<line x1="247.0" y1="357.90000000000003" x2="247.0" y2="360.3" stroke="#7a7a7a" stroke-width="0.8"/>
<line x1="227.6" y1="359.1" x2="227.6" y2="412.9" stroke="#a8a8a8" stroke-width="1.0"/>
<path d="M227.6,415.2 l-1.3,-2.8 h2.6 z" fill="#000"/>
<text class="t" x="169.4" y="353.8" text-anchor="middle">-0.03</text>
<text class="t" x="188.8" y="353.8" text-anchor="middle">-0.02</text>
<text class="t" x="208.2" y="353.8" text-anchor="middle">-0.01</text>
<text class="t" x="227.6" y="353.8" text-anchor="middle">0</text>
<text class="t" x="247.0" y="353.8" text-anchor="middle">0.01</text>
<text class="t" x="266.4" y="353.8" text-anchor="middle">0.02</text>
<text class="h" x="210.95" y="347.0" textLength="7.7" lengthAdjust="spacingAndGlyphs">4-2</text>
<text class="u" x="253.60000000000002" y="345.70000000000005" textLength="18.0" lengthAdjust="spacingAndGlyphs">v [m/s]</text>
<text class="t" x="217.5" y="360.6" text-anchor="middle">0.85</text>
<text class="t" x="221.2" y="416.79999999999995" text-anchor="middle">1</text>
<text class="dd" x="214.6" y="424.59999999999997">d/d<tspan font-size="3.4" dy="0.9">0</tspan></text>
<rect x="307.5" y="338.5" width="117.0" height="88.0" fill="none" stroke="#e2e2e2" stroke-width="1"/>
<polyline points="378.0,391.5 381.7,396.1 383.1,400.8 381.7,405.4 376.1,410.1 366.8,410.6 363.0,411.0" fill="none" stroke="#c8c8c8" stroke-width="0.7" stroke-linejoin="round"/>
<polyline points="363.1,360.2 373.3,360.2 380.8,360.7 383.1,362.5 380.0,364.0" fill="none" stroke="#c8c8c8" stroke-width="0.7" stroke-linejoin="round"/>
<polyline points="380.8,380.2 382.0,382.0 379.8,385.8 381.0,387.0" fill="none" stroke="#a8a8a8" stroke-width="0.7" stroke-linejoin="round"/>
<polyline points="354.2,363.0 357.5,365.3 361.2,366.3 368.6,369.1 375.2,370.9 378.9,372.3" fill="none" stroke="#7a7a7a" stroke-width="0.7" stroke-linejoin="round"/>
<polyline points="370.5,375.1 378.9,374.2 371.0,375.8 379.0,376.0" fill="none" stroke="#7a7a7a" stroke-width="0.7" stroke-linejoin="round"/>
<polyline points="355.6,364.4 360.3,372.8 365.4,377.4 365.4,388.0 365.4,393.3 365.4,402.6 364.0,408.2 362.0,412.0" fill="none" stroke="#7a7a7a" stroke-width="0.7" stroke-linejoin="round"/>
<polyline points="380.0,366.0 380.5,375.0 379.8,384.0 377.0,392.4 373.3,398.9 367.7,403.6 363.5,408.0" fill="none" stroke="#4a4a4a" stroke-width="0.7" stroke-linejoin="round"/>
<polyline points="378.4,363.5 378.5,372.0 378.8,378.0 377.0,382.1 376.1,384.0 372.4,391.5 371.4,396.1 366.8,402.6 363.1,407.3 361.7,412.0" fill="none" stroke="#4a4a4a" stroke-width="0.7" stroke-linejoin="round"/>
<polyline points="379.4,362.5 379.4,372.8 379.8,379.3 378.0,384.0 373.3,393.3 369.6,398.9 364.0,404.5 361.7,412.0" fill="none" stroke="#2f2f2f" stroke-width="0.8" stroke-linejoin="round"/>
<polyline points="362.6,360.2 359.3,363.5 356.1,366.3 354.7,370.0 354.7,373.7 356.1,378.4 358.4,381.2 362.1,381.6 364.5,383.5 363.1,385.8 362.6,388.0 363.1,393.3 364.0,398.9 364.5,404.5 363.1,408.2 360.3,410.6 355.6,411.5 353.7,412.0 356.0,413.0 358.4,412.4 361.5,413.2" fill="none" stroke="#e3161e" stroke-width="0.9" stroke-linejoin="round"/>
<line x1="319.4" y1="359.1" x2="415.9" y2="359.1" stroke="#a8a8a8" stroke-width="1.1"/>
<path d="M417.6,359.1 l-2.8,-1.3 v2.6 z" fill="#000"/>
<line x1="319.4" y1="357.90000000000003" x2="319.4" y2="360.3" stroke="#7a7a7a" stroke-width="0.8"/>
<line x1="333.4" y1="357.90000000000003" x2="333.4" y2="360.3" stroke="#7a7a7a" stroke-width="0.8"/>
<line x1="347.4" y1="357.90000000000003" x2="347.4" y2="360.3" stroke="#7a7a7a" stroke-width="0.8"/>
<line x1="361.4" y1="357.90000000000003" x2="361.4" y2="360.3" stroke="#7a7a7a" stroke-width="0.8"/>
<line x1="375.4" y1="357.90000000000003" x2="375.4" y2="360.3" stroke="#7a7a7a" stroke-width="0.8"/>
<line x1="389.4" y1="357.90000000000003" x2="389.4" y2="360.3" stroke="#7a7a7a" stroke-width="0.8"/>
<line x1="403.4" y1="357.90000000000003" x2="403.4" y2="360.3" stroke="#7a7a7a" stroke-width="0.8"/>
<line x1="361.4" y1="359.1" x2="361.4" y2="412.9" stroke="#a8a8a8" stroke-width="1.0"/>
<path d="M361.4,415.2 l-1.3,-2.8 h2.6 z" fill="#000"/>
<text class="t" x="319.4" y="353.8" text-anchor="middle">-0.03</text>
<text class="t" x="333.4" y="353.8" text-anchor="middle">-0.02</text>
<text class="t" x="347.4" y="353.8" text-anchor="middle">-0.01</text>
<text class="t" x="361.4" y="353.8" text-anchor="middle">0</text>
<text class="t" x="375.4" y="353.8" text-anchor="middle">0.01</text>
<text class="t" x="389.4" y="353.8" text-anchor="middle">0.02</text>
<text class="t" x="403.4" y="353.8" text-anchor="middle">0.03</text>
<text class="t" x="417.4" y="353.8" text-anchor="middle">0.04</text>
<text class="h" x="361.75" y="347.0" textLength="7.7" lengthAdjust="spacingAndGlyphs">4-2</text>
<text class="u" x="404.0" y="345.70000000000005" textLength="19.2" lengthAdjust="spacingAndGlyphs">w [m/s]</text>
<text class="t" x="351.2" y="360.6" text-anchor="middle">0.85</text>
<text class="t" x="355.0" y="416.79999999999995" text-anchor="middle">1</text>
<text class="dd" x="365.5" y="424.59999999999997">d/d<tspan font-size="3.4" dy="0.9">0</tspan></text>
<text class="s" x="214.3" y="438.40000000000003" text-anchor="middle">(d)</text>
<rect x="3.5" y="444.5" width="118.0" height="89.0" fill="none" stroke="#e2e2e2" stroke-width="1"/>
<polyline points="44.0,466.0 60.0,468.2 71.3,469.7" fill="none" stroke="#c8c8c8" stroke-width="0.7" stroke-linejoin="round"/>
<polyline points="90.8,480.5 92.3,483.5 90.8,486.6 91.3,489.7 90.3,492.8 88.7,496.0 86.7,499.0 80.7,504.9 77.8,509.4 73.3,515.4" fill="none" stroke="#a8a8a8" stroke-width="0.7" stroke-linejoin="round"/>
<polyline points="85.6,471.2 98.0,471.2 99.0,468.2 99.5,466.1" fill="none" stroke="#7a7a7a" stroke-width="0.7" stroke-linejoin="round"/>
<polyline points="91.8,476.4 88.0,483.0 84.0,490.0 78.0,498.0 70.0,506.0 59.9,513.9 45.7,517.6" fill="none" stroke="#7a7a7a" stroke-width="0.7" stroke-linejoin="round"/>
<polyline points="90.8,469.7 91.8,472.3 90.3,477.4 87.7,482.5 84.1,490.7 79.3,494.5 71.8,507.9 65.8,513.1 61.3,516.9" fill="none" stroke="#4a4a4a" stroke-width="0.7" stroke-linejoin="round"/>
<polyline points="83.6,469.7 84.6,472.3 83.1,476.4 81.5,482.5 78.5,491.7 76.3,496.0 68.8,506.4 59.9,510.9 49.4,514.6 39.0,517.6 34.5,518.4" fill="none" stroke="#4a4a4a" stroke-width="0.7" stroke-linejoin="round"/>
<polyline points="86.7,470.2 87.7,473.3 86.2,477.4 83.6,484.6 80.5,492.8 77.8,496.0 70.3,506.4 64.3,512.4 59.9,516.1 58.4,518.4" fill="none" stroke="#2f2f2f" stroke-width="0.7" stroke-linejoin="round"/>
<polyline points="80.0,469.7 82.1,471.7 80.5,474.3 80.0,478.4 77.4,485.6 74.8,493.0 70.3,499.0 59.9,502.7 44.9,507.2 41.9,510.1 39.0,514.6 35.2,517.6 33.7,519.1" fill="none" stroke="#2f2f2f" stroke-width="0.8" stroke-linejoin="round"/>
<polyline points="44.2,466.3 57.9,468.4 60.0,469.2 66.2,471.7 73.3,473.3 77.9,474.3 80.0,476.4 82.1,478.4 83.1,479.4 82.1,483.5 80.5,488.7 79.0,492.8 77.4,496.0 74.8,501.9 70.3,510.9 67.3,518.4 66.6,520.6" fill="none" stroke="#e3161e" stroke-width="0.9" stroke-linejoin="round"/>
<line x1="22.0" y1="465.5" x2="113.5" y2="465.5" stroke="#a8a8a8" stroke-width="1.1"/>
<path d="M115.2,465.5 l-2.8,-1.3 v2.6 z" fill="#000"/>
<line x1="22.0" y1="464.3" x2="22.0" y2="466.7" stroke="#7a7a7a" stroke-width="0.8"/>
<line x1="37.5" y1="464.3" x2="37.5" y2="466.7" stroke="#7a7a7a" stroke-width="0.8"/>
<line x1="53.0" y1="464.3" x2="53.0" y2="466.7" stroke="#7a7a7a" stroke-width="0.8"/>
<line x1="68.5" y1="464.3" x2="68.5" y2="466.7" stroke="#7a7a7a" stroke-width="0.8"/>
<line x1="84.0" y1="464.3" x2="84.0" y2="466.7" stroke="#7a7a7a" stroke-width="0.8"/>
<line x1="99.5" y1="464.3" x2="99.5" y2="466.7" stroke="#7a7a7a" stroke-width="0.8"/>
<line x1="22.0" y1="465.5" x2="22.0" y2="519.5" stroke="#a8a8a8" stroke-width="1.0"/>
<path d="M22.0,521.8 l-1.3,-2.8 h2.6 z" fill="#000"/>
<text class="t" x="22.0" y="460.2" text-anchor="middle">0</text>
<text class="t" x="37.5" y="460.2" text-anchor="middle">0.05</text>
<text class="t" x="53.0" y="460.2" text-anchor="middle">0.1</text>
<text class="t" x="68.5" y="460.2" text-anchor="middle">0.15</text>
<text class="t" x="84.0" y="460.2" text-anchor="middle">0.2</text>
<text class="t" x="99.5" y="460.2" text-anchor="middle">0.25</text>
<text class="t" x="115.0" y="460.2" text-anchor="middle">0.3</text>
<text class="h" x="59.15" y="453.4" textLength="7.7" lengthAdjust="spacingAndGlyphs">5-2</text>
<text class="u" x="101.19999999999999" y="452.1" textLength="18.6" lengthAdjust="spacingAndGlyphs">u [m/s]</text>
<text class="t" x="16.9" y="467.2" text-anchor="end">0.85</text>
<text class="t" x="15.4" y="523.4" text-anchor="middle">1</text>
<text class="dd" x="11.4" y="531.2">d/d<tspan font-size="3.4" dy="0.9">0</tspan></text>
<rect x="155.5" y="444.5" width="118.0" height="89.0" fill="none" stroke="#e2e2e2" stroke-width="1"/>
<polyline points="200.9,473.7 219.8,473.7 232.4,475.6 229.9,477.5 219.8,478.1 197.1,478.4" fill="none" stroke="#c8c8c8" stroke-width="0.7" stroke-linejoin="round"/>
<polyline points="185.7,517.1 198.9,513.3 206.4,510.2" fill="none" stroke="#c8c8c8" stroke-width="0.7" stroke-linejoin="round"/>
<polyline points="211.0,466.8 200.9,469.3 196.0,474.0 197.6,490.0 200.2,502.6 205.2,510.2" fill="none" stroke="#a8a8a8" stroke-width="0.7" stroke-linejoin="round"/>
<polyline points="199.5,493.8 198.9,505.1 200.2,512.7 205.2,520.2" fill="none" stroke="#a8a8a8" stroke-width="0.7" stroke-linejoin="round"/>
<polyline points="193.3,468.0 187.0,469.0 191.4,470.3 185.8,471.2 192.7,472.4 189.6,474.1 194.0,475.6 194.6,477.5" fill="none" stroke="#7a7a7a" stroke-width="0.7" stroke-linejoin="round"/>
<polyline points="199.6,479.4 204.0,482.5 202.2,483.8 205.9,488.2 203.4,489.4 206.6,492.0 205.2,493.8 210.2,495.0 214.6,497.6 215.3,500.1 214.0,502.6 216.5,505.1 217.2,508.9 219.0,512.7 220.3,516.4 223.5,520.2" fill="none" stroke="#7a7a7a" stroke-width="0.7" stroke-linejoin="round"/>
<polyline points="207.0,466.5 199.0,472.0 197.0,478.0 198.0,484.0 198.9,490.0 203.3,498.8 207.7,506.4 212.7,512.0 217.8,516.4" fill="none" stroke="#4a4a4a" stroke-width="0.7" stroke-linejoin="round"/>
<polyline points="203.4,466.8 197.1,471.8 196.0,476.9 199.0,480.6 200.9,485.7 202.7,490.0 207.1,500.1 211.5,507.6 217.8,514.6 221.6,519.0" fill="none" stroke="#2f2f2f" stroke-width="0.8" stroke-linejoin="round"/>
<polyline points="199.6,468.0 195.9,473.1 195.2,476.9 196.5,480.6 198.4,486.9 200.8,490.0 205.2,497.6 209.0,505.1 214.0,511.4 220.3,517.7" fill="none" stroke="#2f2f2f" stroke-width="0.8" stroke-linejoin="round"/>
<polyline points="227.4,465.5 223.6,466.1 221.0,468.0 216.0,469.9 208.4,471.2 202.2,472.4 197.7,474.3 195.9,476.9 194.6,481.9 194.3,488.2 195.1,490.0 196.4,495.0 195.7,503.9 193.9,510.2 194.5,514.6 198.9,517.1 203.3,520.9" fill="none" stroke="#e3161e" stroke-width="0.9" stroke-linejoin="round"/>
<line x1="169.4" y1="465.5" x2="264.9" y2="465.5" stroke="#a8a8a8" stroke-width="1.1"/>
<path d="M266.6,465.5 l-2.8,-1.3 v2.6 z" fill="#000"/>
<line x1="169.4" y1="464.3" x2="169.4" y2="466.7" stroke="#7a7a7a" stroke-width="0.8"/>
<line x1="188.8" y1="464.3" x2="188.8" y2="466.7" stroke="#7a7a7a" stroke-width="0.8"/>
<line x1="208.2" y1="464.3" x2="208.2" y2="466.7" stroke="#7a7a7a" stroke-width="0.8"/>
<line x1="227.6" y1="464.3" x2="227.6" y2="466.7" stroke="#7a7a7a" stroke-width="0.8"/>
<line x1="247.0" y1="464.3" x2="247.0" y2="466.7" stroke="#7a7a7a" stroke-width="0.8"/>
<line x1="227.6" y1="465.5" x2="227.6" y2="519.5" stroke="#a8a8a8" stroke-width="1.0"/>
<path d="M227.6,521.8 l-1.3,-2.8 h2.6 z" fill="#000"/>
<text class="t" x="169.4" y="460.2" text-anchor="middle">-0.03</text>
<text class="t" x="188.8" y="460.2" text-anchor="middle">-0.02</text>
<text class="t" x="208.2" y="460.2" text-anchor="middle">-0.01</text>
<text class="t" x="227.6" y="460.2" text-anchor="middle">0</text>
<text class="t" x="247.0" y="460.2" text-anchor="middle">0.01</text>
<text class="t" x="266.4" y="460.2" text-anchor="middle">0.02</text>
<text class="h" x="210.95" y="453.4" textLength="7.7" lengthAdjust="spacingAndGlyphs">5-2</text>
<text class="u" x="253.60000000000002" y="452.1" textLength="18.0" lengthAdjust="spacingAndGlyphs">v [m/s]</text>
<text class="t" x="217.5" y="467.0" text-anchor="middle">0.85</text>
<text class="t" x="221.2" y="523.4" text-anchor="middle">1</text>
<text class="dd" x="214.6" y="531.2">d/d<tspan font-size="3.4" dy="0.9">0</tspan></text>
<rect x="307.5" y="444.5" width="117.0" height="89.0" fill="none" stroke="#e2e2e2" stroke-width="1"/>
<polyline points="361.0,468.0 380.0,469.0 411.0,471.8" fill="none" stroke="#c8c8c8" stroke-width="0.7" stroke-linejoin="round"/>
<polyline points="373.2,469.6 392.9,469.6" fill="none" stroke="#a8a8a8" stroke-width="0.7" stroke-linejoin="round"/>
<polyline points="368.6,471.1 367.9,484.7 369.4,500.0 370.8,514.7 367.7,519.2" fill="none" stroke="#a8a8a8" stroke-width="0.7" stroke-linejoin="round"/>
<polyline points="377.0,472.6 374.7,484.7 376.2,500.0 378.0,510.0 378.3,517.7" fill="none" stroke="#a8a8a8" stroke-width="0.7" stroke-linejoin="round"/>
<polyline points="385.3,471.8 412.6,471.8 400.5,473.4 397.4,474.9" fill="none" stroke="#7a7a7a" stroke-width="0.7" stroke-linejoin="round"/>
<polyline points="408.0,476.4 397.4,477.2 392.9,481.7 389.8,484.7 392.1,486.2 389.1,490.8 393.6,492.3 391.4,495.3 389.1,500.0 387.4,504.1 385.2,510.2 383.6,514.7 381.4,517.7" fill="none" stroke="#7a7a7a" stroke-width="0.7" stroke-linejoin="round"/>
<polyline points="392.9,469.6 385.3,475.6 382.3,483.2 380.0,500.0 376.1,504.1 376.8,510.9" fill="none" stroke="#4a4a4a" stroke-width="0.7" stroke-linejoin="round"/>
<polyline points="349.5,517.7 373.0,511.7 376.8,510.9 390.5,499.5" fill="none" stroke="#2f2f2f" stroke-width="0.8" stroke-linejoin="round"/>
<polyline points="350.0,518.5 372.0,512.5 378.0,511.0" fill="none" stroke="#2f2f2f" stroke-width="0.7" stroke-linejoin="round"/>
<polyline points="395.2,468.8 387.6,474.1 383.0,480.2 380.8,487.8 378.5,500.0 376.8,510.2 379.8,516.2" fill="none" stroke="#2f2f2f" stroke-width="0.8" stroke-linejoin="round"/>
<polyline points="360.3,466.2 361.1,468.8 366.4,470.3 371.7,471.1 373.2,471.8 372.4,474.1 373.9,475.6 371.7,478.7 370.2,481.7 370.2,489.3 370.9,500.0 371.5,501.1 372.3,508.6 373.8,514.7 376.1,520.0" fill="none" stroke="#e3161e" stroke-width="0.9" stroke-linejoin="round"/>
<line x1="320.0" y1="465.5" x2="416.5" y2="465.5" stroke="#a8a8a8" stroke-width="1.1"/>
<path d="M418.2,465.5 l-2.8,-1.3 v2.6 z" fill="#000"/>
<line x1="320.0" y1="464.3" x2="320.0" y2="466.7" stroke="#7a7a7a" stroke-width="0.8"/>
<line x1="339.6" y1="464.3" x2="339.6" y2="466.7" stroke="#7a7a7a" stroke-width="0.8"/>
<line x1="359.2" y1="464.3" x2="359.2" y2="466.7" stroke="#7a7a7a" stroke-width="0.8"/>
<line x1="378.8" y1="464.3" x2="378.8" y2="466.7" stroke="#7a7a7a" stroke-width="0.8"/>
<line x1="398.4" y1="464.3" x2="398.4" y2="466.7" stroke="#7a7a7a" stroke-width="0.8"/>
<line x1="359.2" y1="465.5" x2="359.2" y2="519.5" stroke="#a8a8a8" stroke-width="1.0"/>
<path d="M359.2,521.8 l-1.3,-2.8 h2.6 z" fill="#000"/>
<text class="t" x="320.0" y="460.2" text-anchor="middle">-0.02</text>
<text class="t" x="339.6" y="460.2" text-anchor="middle">-0.01</text>
<text class="t" x="359.2" y="460.2" text-anchor="middle">0</text>
<text class="t" x="378.8" y="460.2" text-anchor="middle">0.01</text>
<text class="t" x="398.4" y="460.2" text-anchor="middle">0.02</text>
<text class="t" x="418.0" y="460.2" text-anchor="middle">0.03</text>
<text class="h" x="361.75" y="453.4" textLength="7.7" lengthAdjust="spacingAndGlyphs">5-2</text>
<text class="u" x="404.0" y="452.1" textLength="19.2" lengthAdjust="spacingAndGlyphs">w [m/s]</text>
<text class="t" x="349.0" y="467.0" text-anchor="middle">0.85</text>
<text class="t" x="352.8" y="523.4" text-anchor="middle">1</text>
<text class="dd" x="363.3" y="531.2">d/d<tspan font-size="3.4" dy="0.9">0</tspan></text>
<text class="s" x="214.3" y="544.9" text-anchor="middle">(e)</text>
</svg></body></html>
